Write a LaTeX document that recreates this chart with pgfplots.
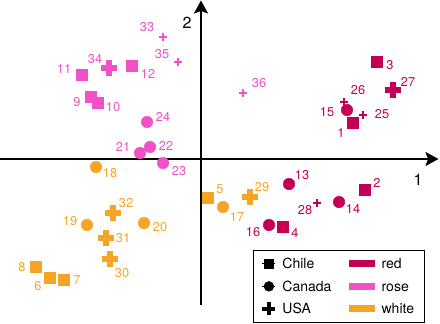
\documentclass[border=0pt]{standalone}
\usepackage{pgfplots}
\pgfplotsset{compat=1.18}
\usepackage{fontspec}
\setmainfont{TeX Gyre Heros}
\usetikzlibrary{arrows.meta}
\definecolor{cred}{RGB}{195,0,85}
\definecolor{crose}{RGB}{240,80,200}
\definecolor{cwhite}{RGB}{245,165,35}
\tikzset{lab/.style={font=\fontsize{12.8bp}{15bp}\selectfont, inner sep=0pt, anchor=center}}
\begin{document}
\begin{tikzpicture}
\begin{axis}[
  width=440bp, height=323bp, scale only axis,
  xmin=-201, xmax=239, ymin=-164, ymax=159,
  hide axis, clip=false,
  legend columns=2,
  legend cell align=left,
  legend style={at={(0.5743,0.2269)}, anchor=north west, draw=black, line width=1bp,
    font=\fontsize{14bp}{16bp}\selectfont, inner xsep=8.7bp, inner ysep=2.4bp,
    nodes={inner xsep=2bp, inner ysep=6.15bp, text height=10.2bp, text depth=0bp},
    /tikz/every odd column/.append style={column sep=4.5bp},
    /tikz/every even column/.append style={column sep=15.7bp},
    row sep=0bp},
  sq/.style={only marks, mark=square*, mark size=5.65bp},
  ci/.style={only marks, mark=*, mark size=5.8bp},
  bpl/.style={only marks, mark=+, mark size=7.8bp, mark options={line width=5.5bp}},
  spl/.style={only marks, mark=+, mark size=3.8bp, mark options={line width=2.2bp}},
  mkleg/.style={legend image code/.code={\path (0bp,0bp) -- (13bp,0bp); \draw[##1] plot coordinates {(6.5bp,0bp)};}},
  barleg/.style={legend image code/.code={\fill[#1] (0bp,-3bp) rectangle (25bp,3bp);}},
]
% axes
\draw[line width=2bp, -{Stealth[length=13bp, width=14bp, inset=2.5bp]}] (axis cs:-201,0) -- (axis cs:237.5,0);
\draw[line width=2bp, -{Stealth[length=13bp, width=14bp, inset=2.5bp]}] (axis cs:0,-145.5) -- (axis cs:0,158.5);
\node[font=\fontsize{16bp}{18bp}\selectfont, inner sep=0pt] at (axis cs:217,-21) {1};
\node[font=\fontsize{16bp}{18bp}\selectfont, inner sep=0pt] at (axis cs:-14,136) {2};

% red
\addplot[sq, cred, forget plot] coordinates {(152,36) (164,-31) (176,97) (82,-68)};
\addplot[ci, cred, forget plot] coordinates {(88,-25) (138,-43) (146,49) (68,-66)};
\addplot[spl, cred, forget plot] coordinates {(162,44) (143,57) (116,-44)};
\addplot[bpl, cred, forget plot] coordinates {(192,69)};
% rose
\addplot[sq, crose, forget plot] coordinates {(-110,62) (-103,56) (-119,84) (-69,93)};
\addplot[ci, crose, forget plot] coordinates {(-61,6) (-51,12) (-38,-4) (-54,37)};
\addplot[spl, crose, forget plot] coordinates {(-38,122) (-23,97) (42,66)};
\addplot[bpl, crose, forget plot] coordinates {(-92,91)};
% white
\addplot[sq, cwhite, forget plot] coordinates {(7,-39) (-151,-119) (-137,-121) (-165,-108)};
\addplot[ci, cwhite, forget plot] coordinates {(22,-48) (-105,-8) (-114,-66) (-57,-64)};
\addplot[bpl, cwhite, forget plot] coordinates {(49,-38) (-91,-100) (-95,-79) (-88,-54)};

% labels
\begin{scope}[text=cred]
\node[lab] at (axis cs:140,26) {1};
\node[lab] at (axis cs:176,-24) {2};
\node[lab] at (axis cs:189,94) {3};
\node[lab] at (axis cs:94,-74) {4};
\node[lab] at (axis cs:101,-16) {13};
\node[lab] at (axis cs:152,-50) {14};
\node[lab] at (axis cs:126,47) {15};
\node[lab] at (axis cs:52,-73) {16};
\node[lab] at (axis cs:181,45) {25};
\node[lab] at (axis cs:157,69) {26};
\node[lab] at (axis cs:207,77) {27};
\node[lab] at (axis cs:104,-51) {28};
\end{scope}
\begin{scope}[text=crose]
\node[lab] at (axis cs:-124,57) {9};
\node[lab] at (axis cs:-88,52) {10};
\node[lab] at (axis cs:-137,90) {11};
\node[lab] at (axis cs:-53,85) {12};
\node[lab] at (axis cs:-78,12) {21};
\node[lab] at (axis cs:-35,13) {22};
\node[lab] at (axis cs:-22,-12) {23};
\node[lab] at (axis cs:-38,42) {24};
\node[lab] at (axis cs:-54,132) {33};
\node[lab] at (axis cs:-106,100) {34};
\node[lab] at (axis cs:-39,105) {35};
\node[lab] at (axis cs:58,76) {36};
\end{scope}
\begin{scope}[text=cwhite]
\node[lab] at (axis cs:19,-30) {5};
\node[lab] at (axis cs:-163,-127) {6};
\node[lab] at (axis cs:-124,-121) {7};
\node[lab] at (axis cs:-179,-108) {8};
\node[lab] at (axis cs:36,-58) {17};
\node[lab] at (axis cs:-91,-14) {18};
\node[lab] at (axis cs:-131,-62) {19};
\node[lab] at (axis cs:-41,-68) {20};
\node[lab] at (axis cs:61,-28) {29};
\node[lab] at (axis cs:-79,-114) {30};
\node[lab] at (axis cs:-78,-79) {31};
\node[lab] at (axis cs:-75,-44) {32};
\end{scope}

% legend
\addlegendimage{mkleg, black, mark=square*, mark size=4.15bp}
\addlegendentry{Chile}
\addlegendimage{barleg=cred}
\addlegendentry{red}
\addlegendimage{mkleg, black, mark=*, mark size=4.65bp}
\addlegendentry{Canada}
\addlegendimage{barleg=crose}
\addlegendentry{rose}
\addlegendimage{mkleg, black, mark=+, mark size=6.5bp, mark options={line width=4.5bp}}
\addlegendentry{USA}
\addlegendimage{barleg=cwhite}
\addlegendentry{white}
\end{axis}
\pgfresetboundingbox
\path (current axis.south west) rectangle (current axis.north east);
\end{tikzpicture}
\end{document}
